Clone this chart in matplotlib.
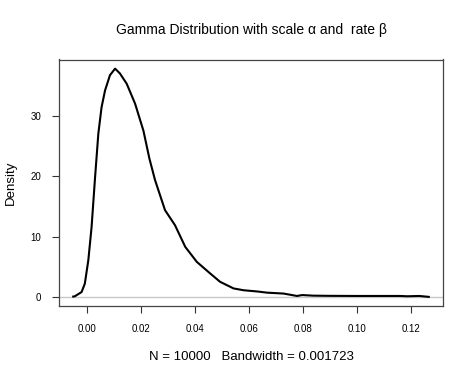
import numpy as np
import matplotlib.pyplot as plt

plt.rcParams['font.family'] = ['Liberation Sans', 'DejaVu Sans']

# density estimate
x = [-0.0052, -0.0046, -0.0021, -0.0009, 0.0004, 0.0016, 0.0029, 0.0041, 0.0053,
     0.0066, 0.0084, 0.0103, 0.0121, 0.0146, 0.0177, 0.0208, 0.0230, 0.0251,
     0.0288, 0.0325, 0.0363, 0.0406, 0.0455, 0.0492, 0.0542, 0.0579, 0.0629,
     0.0666, 0.0727, 0.0777, 0.0796, 0.0838, 0.0900, 0.1000, 0.1100, 0.1160,
     0.1185, 0.1230, 0.1265]
dens = [0.05, 0.1, 0.8, 2.2, 6.1, 11.6, 19.9, 27.1, 31.5,
        34.3, 36.8, 37.9, 37.1, 35.4, 32.1, 27.6, 23.0, 19.4,
        14.4, 11.9, 8.3, 5.8, 3.9, 2.5, 1.4, 1.1, 0.9,
        0.7, 0.55, 0.15, 0.3, 0.2, 0.17, 0.15, 0.15, 0.15,
        0.1, 0.15, 0.0]
xticks = [0.00, 0.02, 0.04, 0.06, 0.08, 0.10, 0.12]
yticks = [0, 10, 20, 30]

W, H = 474, 380
fig = plt.figure(figsize=(W/100, H/100), dpi=100)
ax = fig.add_axes([59/W, 1 - 306/H, (443 - 59)/W, (306 - 59.5)/H])

ax.axhline(0, color='#c8c8c8', lw=1.0, zorder=1)
ax.plot(x, dens, color='black', lw=1.5, zorder=2)

xr = max(x) - min(x)
ax.set_xlim(min(x) - 0.04*xr, max(x) + 0.04*xr)
yr = max(dens) - min(dens)
ax.set_ylim(min(dens) - 0.04*yr, max(dens) + 0.04*yr)

ax.set_xticks(xticks)
ax.set_xticklabels(['%.2f' % t for t in xticks])
ax.set_yticks(yticks)
ax.tick_params(direction='out', length=5, width=0.8, color='#333333',
               labelsize=7, pad=8)
for s in ax.spines.values():
    s.set_color('#444444')
    s.set_linewidth(0.9)

# titles placed in figure pixels like R's margin text
fig.text(251/W, 1 - 30/H, 'Gamma Distribution with scale \u03b1 and  rate \u03b2',
         fontsize=10, ha='center', va='center')
fig.text(251/W, 1 - 357/H, 'N = 10000   Bandwidth = 0.001723',
         fontsize=9.5, ha='center', va='center')
fig.text(11/W, 1 - 183/H, 'Density', fontsize=9.5, rotation=90,
         ha='center', va='center')

fig.savefig('out.png', dpi=100)
